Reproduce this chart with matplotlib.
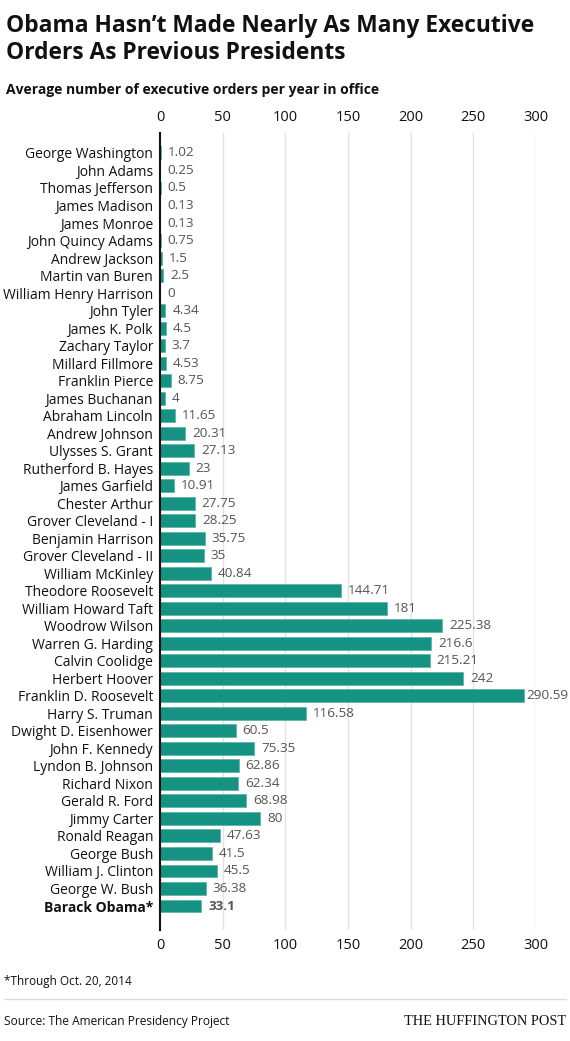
import matplotlib.pyplot as plt

plt.rcParams['font.family'] = ['Open Sans', 'DejaVu Sans']

presidents = [
    'George Washington', 'John Adams', 'Thomas Jefferson', 'James Madison',
    'James Monroe', 'John Quincy Adams', 'Andrew Jackson', 'Martin van Buren',
    'William Henry Harrison', 'John Tyler', 'James K. Polk', 'Zachary Taylor',
    'Millard Fillmore', 'Franklin Pierce', 'James Buchanan', 'Abraham Lincoln',
    'Andrew Johnson', 'Ulysses S. Grant', 'Rutherford B. Hayes', 'James Garfield',
    'Chester Arthur', 'Grover Cleveland - I', 'Benjamin Harrison',
    'Grover Cleveland - II', 'William McKinley', 'Theodore Roosevelt',
    'William Howard Taft', 'Woodrow Wilson', 'Warren G. Harding',
    'Calvin Coolidge', 'Herbert Hoover', 'Franklin D. Roosevelt',
    'Harry S. Truman', 'Dwight D. Eisenhower', 'John F. Kennedy',
    'Lyndon B. Johnson', 'Richard Nixon', 'Gerald R. Ford', 'Jimmy Carter',
    'Ronald Reagan', 'George Bush', 'William J. Clinton', 'George W. Bush',
    'Barack Obama*',
]
orders_per_year = [
    1.02, 0.25, 0.5, 0.13, 0.13, 0.75, 1.5, 2.5, 0, 4.34, 4.5, 3.7, 4.53,
    8.75, 4, 11.65, 20.31, 27.13, 23, 10.91, 27.75, 28.25, 35.75, 35, 40.84,
    144.71, 181, 225.38, 216.6, 215.21, 242, 290.59, 116.58, 60.5, 75.35,
    62.86, 62.34, 68.98, 80, 47.63, 41.5, 45.5, 36.38, 33.1,
]
value_labels = [
    '1.02', '0.25', '0.5', '0.13', '0.13', '0.75', '1.5', '2.5', '0', '4.34',
    '4.5', '3.7', '4.53', '8.75', '4', '11.65', '20.31', '27.13', '23',
    '10.91', '27.75', '28.25', '35.75', '35', '40.84', '144.71', '181',
    '225.38', '216.6', '215.21', '242', '290.59', '116.58', '60.5', '75.35',
    '62.86', '62.34', '68.98', '80', '47.63', '41.5', '45.5', '36.38', '33.1',
]
ticks = [0, 50, 100, 150, 200, 250, 300]

W, H = 570, 1041
fig = plt.figure(figsize=(W / 100, H / 100), dpi=100)
ax = fig.add_axes([160 / W, 1 - 930 / H, 376 / W, (930 - 133) / H])

teal = '#159282'
n = len(presidents)
pos = list(range(n))
ax.barh(pos, orders_per_year, height=0.74, color=teal, edgecolor='#5fb5a8',
        linewidth=0.6, zorder=2)

for i, (v, lab) in enumerate(zip(orders_per_year, value_labels)):
    last = i == n - 1
    # the longest bar gets its label squeezed against the bar end
    gap = 1.5 if v > 280 else 5.5
    ax.text(v + gap, i, lab, va='center', ha='left', fontsize=9.7,
            color='#555555', fontweight='bold' if last else 'normal',
            clip_on=False)

ax.set_xlim(0, 300)
ax.set_ylim(n - 1 + 1.37, -1.14)
ax.set_yticks(pos)
ax.set_yticklabels(presidents, fontsize=10, color='#111111')
ax.get_yticklabels()[-1].set_fontweight('bold')
ax.set_xticks(ticks)
ax.tick_params(axis='x', labelsize=10.5, colors='#111111', length=0, pad=6,
               labeltop=True, labelbottom=True)
ax.tick_params(axis='y', length=0, pad=5)

for t in ticks[1:]:
    ax.axvline(t, color='#e2e2e2', linewidth=1, zorder=0)
for s in ['top', 'right', 'bottom']:
    ax.spines[s].set_visible(False)
ax.spines['left'].set_color('#111111')
ax.spines['left'].set_linewidth(1.5)
ax.spines['left'].set_zorder(3)

fig.text(6 / W, 1 - 32 / H, 'Obama Hasn\u2019t Made Nearly As Many Executive',
         fontsize=16.4, fontweight='bold', color='#111111', va='baseline')
fig.text(6 / W, 1 - 59 / H, 'Orders As Previous Presidents',
         fontsize=16.4, fontweight='bold', color='#111111', va='baseline')
fig.text(6 / W, 1 - 94 / H, 'Average number of executive orders per year in office',
         fontsize=10, fontweight='bold', color='#111111', va='baseline')
fig.text(4 / W, 1 - 985 / H, '*Through Oct. 20, 2014', fontsize=8.5,
         color='#111111', va='baseline')
fig.add_artist(plt.Line2D([4 / W, 566 / W], [1 - 999 / H, 1 - 999 / H],
                          color='#dddddd', linewidth=1))
fig.text(4 / W, 1 - 1025 / H, 'Source: The American Presidency Project',
         fontsize=8.6, color='#111111', va='baseline')
fig.text(566 / W, 1 - 1025 / H, 'THE HUFFINGTON POST', fontsize=10.4,
         family='Liberation Serif', color='#111111', ha='right', va='baseline')

fig.savefig('out.png', dpi=100)
